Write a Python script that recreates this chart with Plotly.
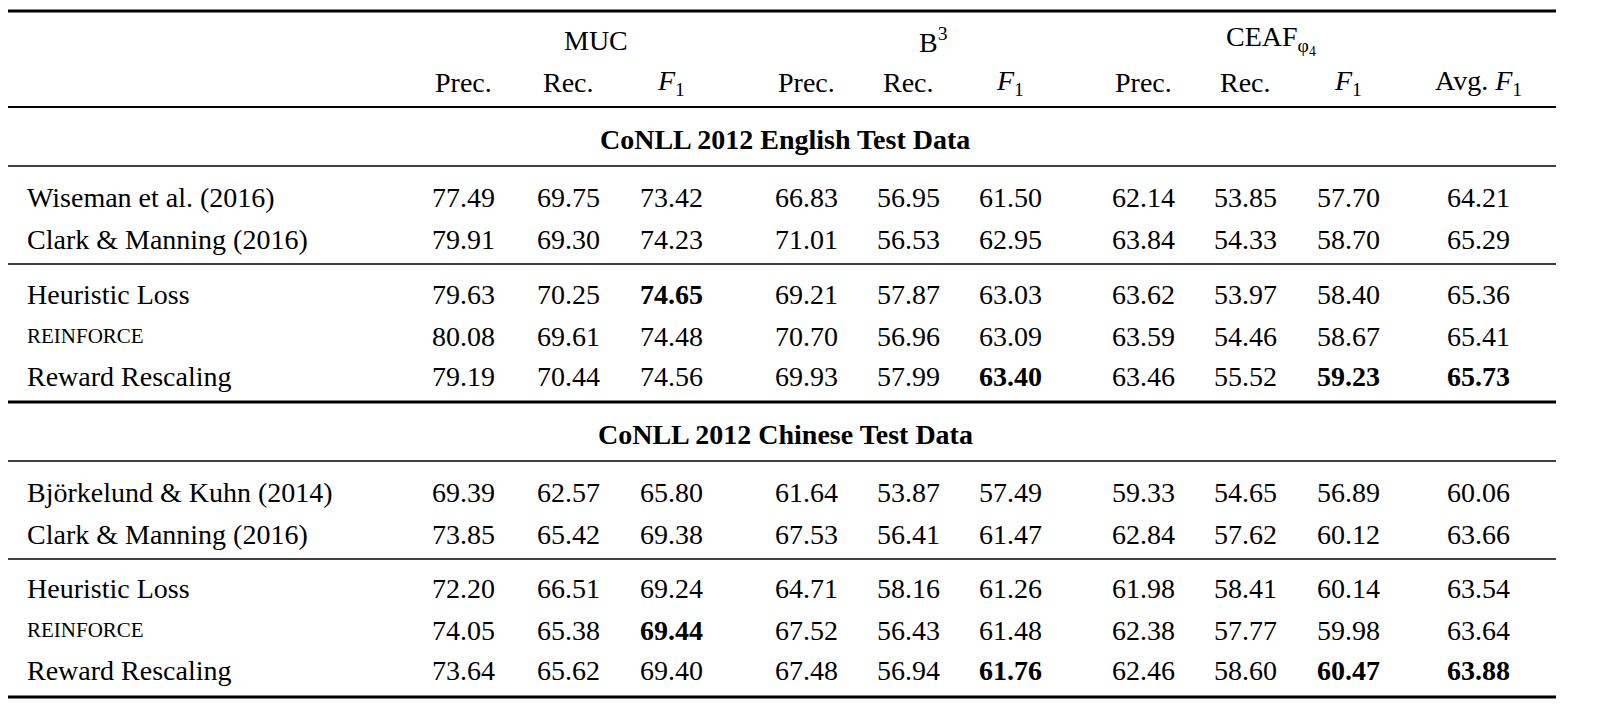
import plotly.graph_objects as go

W, H = 1605, 708
FONT = "Liberation Serif"
FS = 28

groups = ["MUC", "B<sup>3</sup>", "CEAF<sub>φ<sub>4</sub></sub>"]
subheads = ["Prec.", "Rec.", "<i>F</i><sub>1</sub>"] * 3 + ["Avg. <i>F</i><sub>1</sub>"]
sections = ["CoNLL 2012 English Test Data", "CoNLL 2012 Chinese Test Data"]

en_systems = ["Wiseman et al. (2016)", "Clark & Manning (2016)", "Heuristic Loss", "REINFORCE", "Reward Rescaling"]
en_values = [
    ["77.49", "69.75", "73.42", "66.83", "56.95", "61.50", "62.14", "53.85", "57.70", "64.21"],
    ["79.91", "69.30", "74.23", "71.01", "56.53", "62.95", "63.84", "54.33", "58.70", "65.29"],
    ["79.63", "70.25", "74.65", "69.21", "57.87", "63.03", "63.62", "53.97", "58.40", "65.36"],
    ["80.08", "69.61", "74.48", "70.70", "56.96", "63.09", "63.59", "54.46", "58.67", "65.41"],
    ["79.19", "70.44", "74.56", "69.93", "57.99", "63.40", "63.46", "55.52", "59.23", "65.73"],
]
en_bold = [(2, 2), (4, 5), (4, 8), (4, 9)]

zh_systems = ["Björkelund & Kuhn (2014)", "Clark & Manning (2016)", "Heuristic Loss", "REINFORCE", "Reward Rescaling"]
zh_values = [
    ["69.39", "62.57", "65.80", "61.64", "53.87", "57.49", "59.33", "54.65", "56.89", "60.06"],
    ["73.85", "65.42", "69.38", "67.53", "56.41", "61.47", "62.84", "57.62", "60.12", "63.66"],
    ["72.20", "66.51", "69.24", "64.71", "58.16", "61.26", "61.98", "58.41", "60.14", "63.54"],
    ["74.05", "65.38", "69.44", "67.52", "56.43", "61.48", "62.38", "57.77", "59.98", "63.64"],
    ["73.64", "65.62", "69.40", "67.48", "56.94", "61.76", "62.46", "58.60", "60.47", "63.88"],
]
zh_bold = [(3, 2), (4, 5), (4, 8), (4, 9)]

col_x = [455, 560, 663, 798, 900, 1002, 1135, 1237, 1340, 1470]
group_x = [588, 925, 1263]
en_rows_y = [189, 231, 286, 328, 368]
zh_rows_y = [484, 526, 580, 622, 662]

fig = go.Figure()
ann = []
def add(x, y, t, anchor="center", size=FS):
    ann.append(dict(x=x, y=y, text=t, showarrow=False, xanchor=anchor, yanchor="middle",
                    font=dict(family=FONT, size=size, color="black")))

for gx, g in zip(group_x, groups):
    add(gx, 32, g)
for cx, s in zip(col_x, subheads):
    add(cx, 74, s)
add(777, 131, "<b>" + sections[0] + "</b>")
add(777, 426, "<b>" + sections[1] + "</b>")

for systems, values, bold, ys in [(en_systems, en_values, en_bold, en_rows_y),
                                  (zh_systems, zh_values, zh_bold, zh_rows_y)]:
    for i, (name, row, y) in enumerate(zip(systems, values, ys)):
        if name == "REINFORCE":
            add(17, y, name, anchor="left", size=21)
        else:
            add(17, y, name, anchor="left")
        for j, v in enumerate(row):
            add(col_x[j], y, "<b>%s</b>" % v if (i, j) in bold else v)

shapes = []
for y, w in [(3, 3), (99, 2), (158, 1.5), (256, 1.5), (394, 3), (453, 1.5), (551, 1.5), (689, 3)]:
    shapes.append(dict(type="line", x0=0, x1=1548, y0=y, y1=y, line=dict(color="black", width=w)))

fig.update_layout(width=W, height=H, margin=dict(l=0, r=0, t=0, b=0),
                  paper_bgcolor="white", plot_bgcolor="white",
                  xaxis=dict(range=[0, W], visible=False, fixedrange=True),
                  yaxis=dict(range=[H, 0], visible=False, fixedrange=True),
                  annotations=ann, shapes=shapes, showlegend=False)
fig.write_html("out.html")
